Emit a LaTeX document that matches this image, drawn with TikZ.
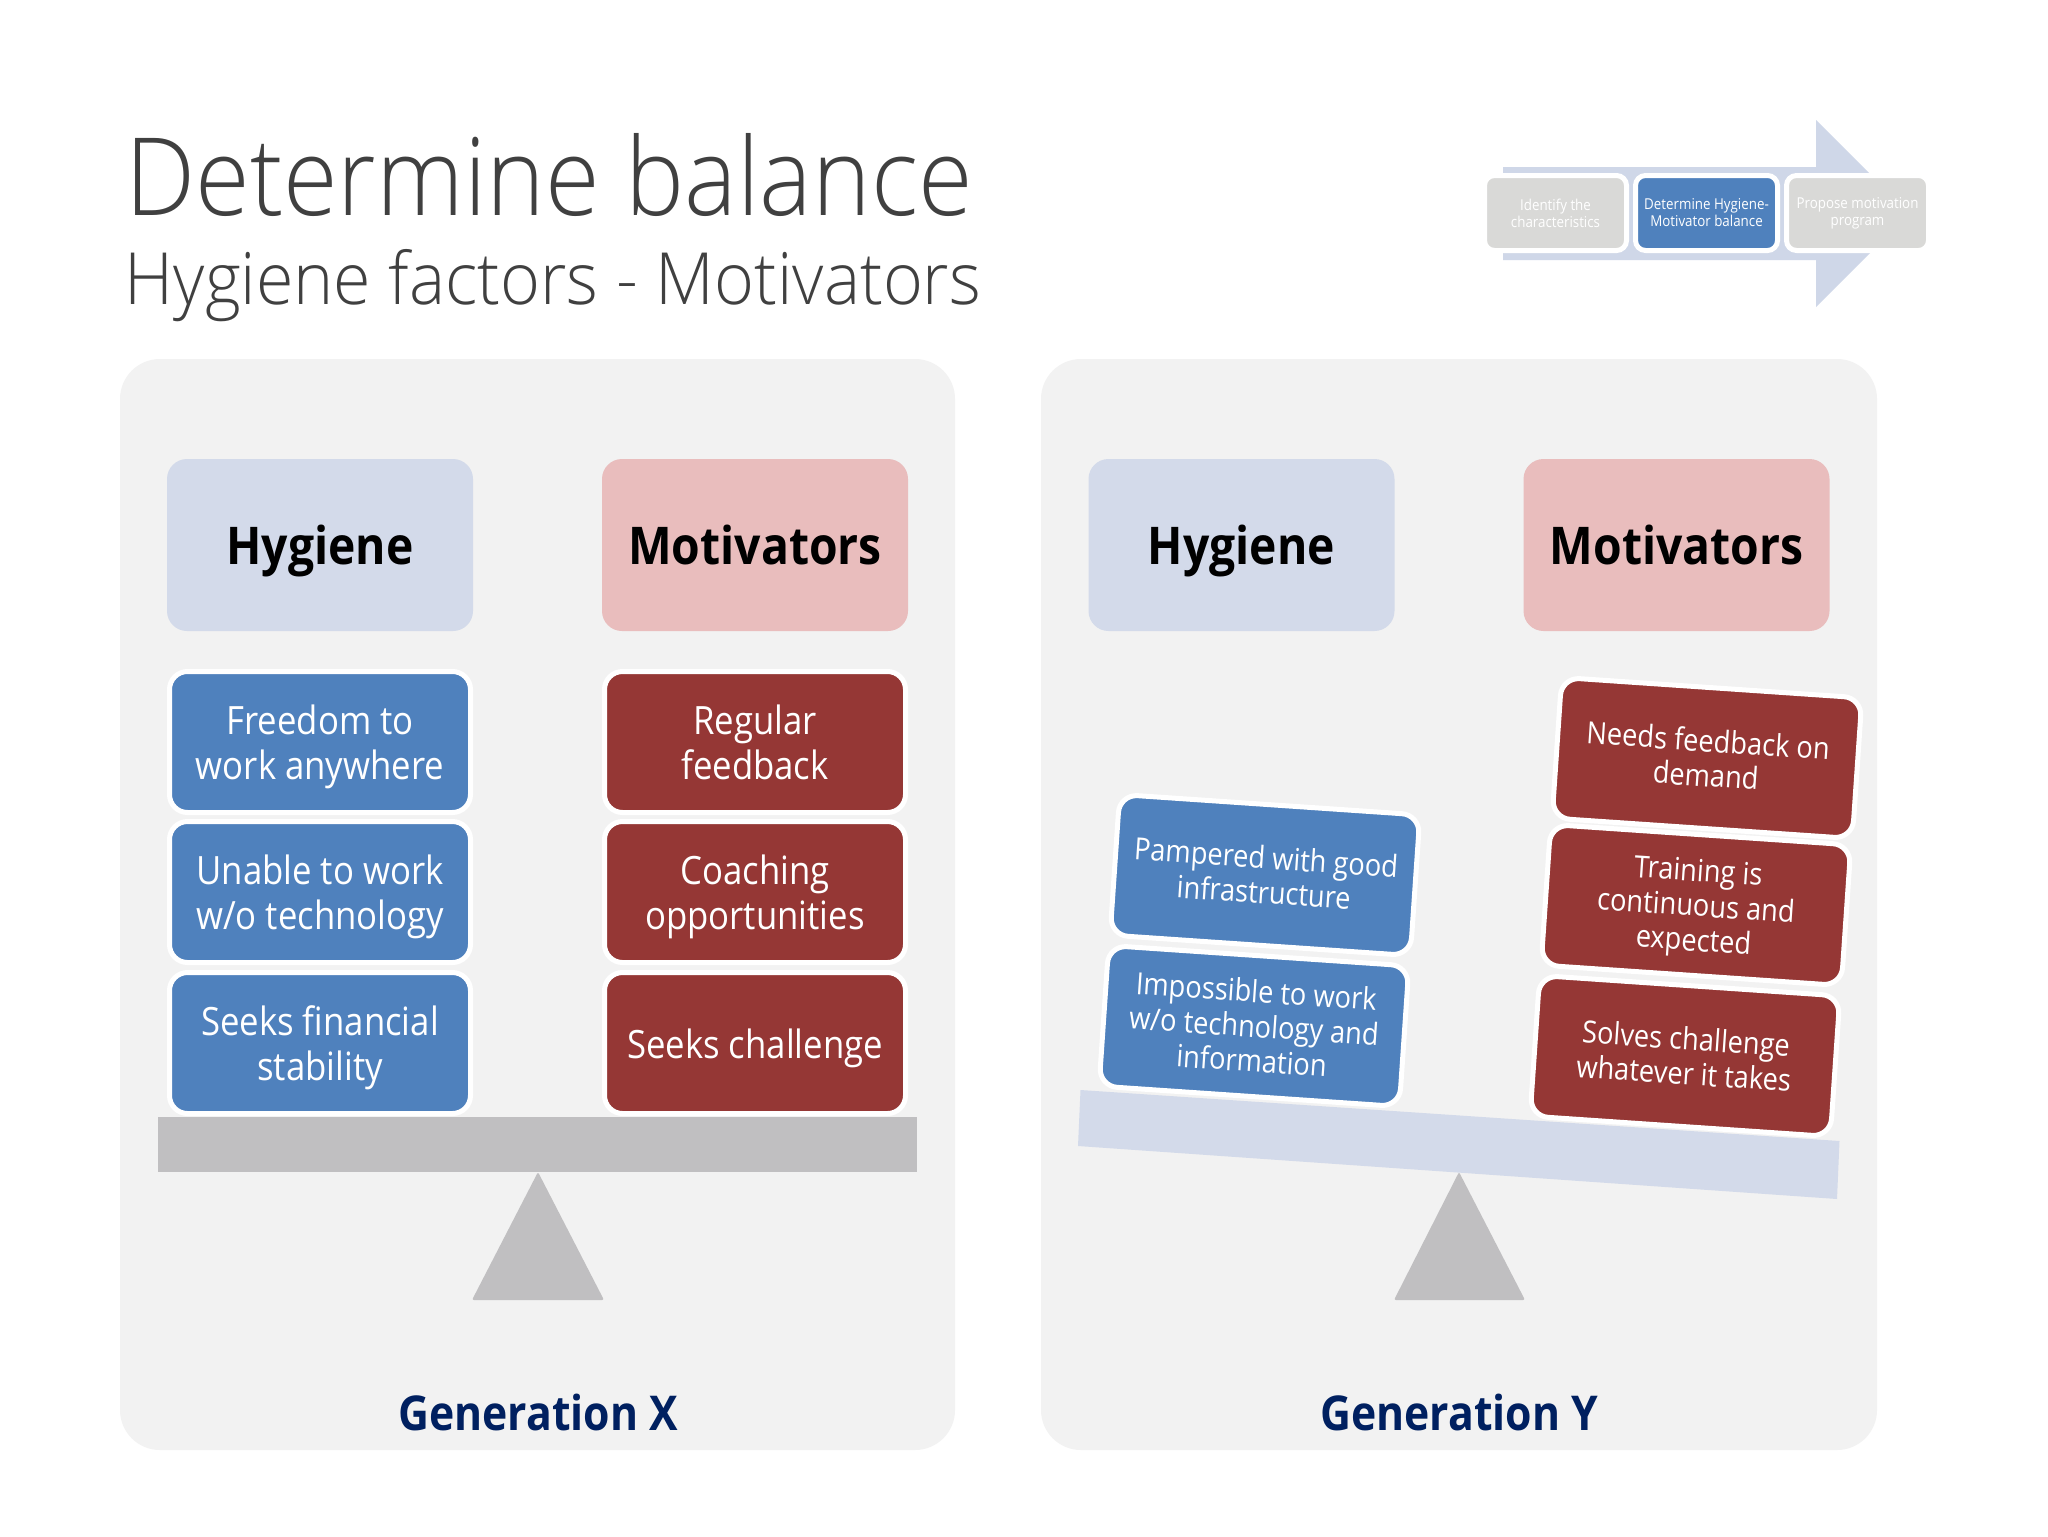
\documentclass[tikz,border=0pt]{standalone}
\usepackage{fontspec}
\setmainfont[FakeStretch=0.89]{Open Sans}
\newfontfamily\titlefont[FakeStretch=0.92]{Open Sans Light}
\newfontfamily\subtitlefont[FakeStretch=0.946]{Open Sans Light}
\newcommand\flatlines[1]{\smash{\raisebox{-8.3pt}{\begin{tabular}{@{}c@{}}#1\end{tabular}}}}
\newcommand\tiltlines[1]{\smash{\raisebox{-5.7pt}{\begin{tabular}{@{}c@{}}#1\end{tabular}}}}
\definecolor{cardc}{HTML}{F2F2F2}
\definecolor{hblue}{HTML}{D3DAEA}
\definecolor{hpink}{HTML}{E9BDBD}
\definecolor{bblue}{HTML}{4F81BD}
\definecolor{bred}{HTML}{953735}
\definecolor{beamc}{HTML}{C0BFC1}
\definecolor{titlec}{HTML}{404040}
\definecolor{navy}{HTML}{002060}
\definecolor{greybox}{HTML}{D9D9D7}
\definecolor{arrowc}{HTML}{CFD7E8}
\tikzset{
  card/.style={fill=cardc,rounded corners=20pt},
  head/.style={rounded corners=10pt,minimum width=153pt,minimum height=86pt,inner sep=0pt,text height=24pt,text depth=4.5pt,font=\fontsize{26}{30}\selectfont\bfseries,text=black},
  hyg/.style={head,fill=hblue},
  mot/.style={head,fill=hpink},
  item/.style={rounded corners=9pt,minimum width=150.5pt,minimum height=70.5pt,inner sep=0pt,draw=white,line width=2.5pt,text=white,font=\fontsize{19.5}{22.3}\selectfont},
  bluebox/.style={item,fill=bblue},
  redbox/.style={item,fill=bred},
  tilted/.style={rotate=-3.9,font=\fontsize{15.3}{17.4}\selectfont},
  gen/.style={font=\fontsize{24}{28}\selectfont\bfseries,text=navy,anchor=base},
  step box/.style={rounded corners=5pt,minimum width=71pt,minimum height=37.5pt,inner sep=0pt,text=white,align=center,font=\fontsize{7.5}{8.5}\selectfont,draw=white,line width=2.5pt},
}
\begin{document}
\begin{tikzpicture}[x=0.5pt,y=-0.5pt]
\useasboundingbox (0,0) rectangle (2048,1536);
\fill[white] (0,0) rectangle (2048,1536);
% titles
\node[anchor=base west,inner sep=0pt,text=titlec,font=\fontsize{54}{60}\selectfont\titlefont] (title) at (125,215.5) {Determine balance};
\node[anchor=base west,inner sep=0pt,text=titlec,font=\fontsize{36}{40}\selectfont\subtitlefont] (subtitle) at (124.5,304) {Hygiene factors - Motivators};
% process arrow
\fill[arrowc] (1503,167) -- (1816,167) -- (1816,120) -- (1909.5,213.5) -- (1816,307) -- (1816,260) -- (1503,260) -- cycle;
\node[step box,fill=greybox] (s1) at (1555.5,213) {Identify the\\characteristics};
\node[step box,fill=bblue] (s2) at (1706.5,213) {Determine Hygiene-\\Motivator balance};
\node[step box,fill=greybox] (s3) at (1857.5,213) {Propose motivation\\program};
% cards
\fill[card] (120,359) rectangle (955,1450);
\fill[card] (1041,359) rectangle (1877,1450);
% headers
\node[hyg] (h1) at (320,545) {Hygiene};
\node[mot] (m1) at (755,545) {Motivators};
\node[hyg] (h2) at (1241.5,545) {Hygiene};
\node[mot] (m2) at (1676.5,545) {Motivators};
% left balance
\fill[beamc] (158,1117) rectangle (917,1172);
\fill[beamc,rounded corners=1pt] (538,1172) -- (604,1300) -- (472,1300) -- cycle;
\node[bluebox] (b11) at (320,742) {\flatlines{Freedom to\\work anywhere}};
\node[bluebox] (b12) at (320,892) {\flatlines{Unable to work\\w/o technology}};
\node[bluebox] (b13) at (320,1043) {\flatlines{Seeks financial\\stability}};
\node[redbox] (r11) at (755,742) {\flatlines{Regular\\feedback}};
\node[redbox] (r12) at (755,892) {\flatlines{Coaching\\opportunities}};
\node[redbox] (r13) at (755,1043) {\flatlines{Seeks challenge}};
\node[gen] (gx) at (538,1430) {Generation X};
% right balance
\fill[hblue] (1080.5,1090) -- (1839.5,1141) -- (1837,1199) -- (1078,1146) -- cycle;
\fill[beamc,rounded corners=1pt] (1459,1172) -- (1525,1300) -- (1394,1300) -- cycle;
\node[bluebox,tilted] (b21) at (1265,875) {\tiltlines{Pampered with good\\infrastructure}};
\node[bluebox,tilted] (b22) at (1254,1026) {\tiltlines{Impossible to work\\w/o technology and\\information}};
\node[redbox,tilted] (r21) at (1707,758) {\tiltlines{Needs feedback on\\demand}};
\node[redbox,tilted] (r22) at (1696,905) {\tiltlines{Training is\\continuous and\\expected}};
\node[redbox,tilted] (r23) at (1685,1056) {\tiltlines{Solves challenge\\whatever it takes}};
\node[gen] (gy) at (1459,1430) {Generation Y};
\end{tikzpicture}
\end{document}
